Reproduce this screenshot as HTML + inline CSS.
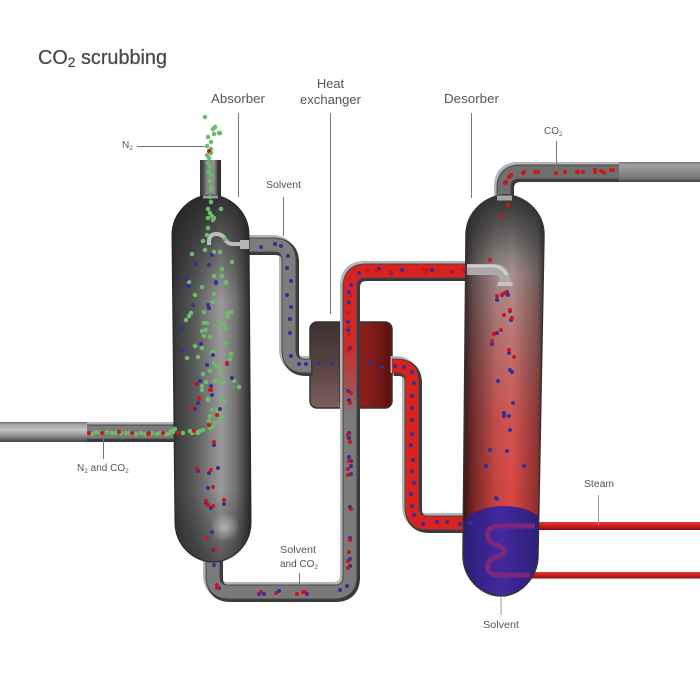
<!DOCTYPE html>
<html><head><meta charset="utf-8"><title>CO2 scrubbing</title>
<style>html,body{margin:0;padding:0;background:#fff}svg{display:block}text{font-family:"Liberation Sans",sans-serif;fill:#555}</style></head>
<body>
<svg width="700" height="700" viewBox="0 0 700 700" xmlns="http://www.w3.org/2000/svg" style="filter:blur(.3px)">
<defs>
<linearGradient id="closedH" x1="0" y1="0" x2="0" y2="1"><stop offset="0" stop-color="#6f6f6f"/><stop offset=".12" stop-color="#a5a5a5"/><stop offset=".4" stop-color="#c4c4c4"/><stop offset=".7" stop-color="#8f8f8f"/><stop offset=".9" stop-color="#5a5a5a"/><stop offset="1" stop-color="#444"/></linearGradient>
<linearGradient id="closedR" x1="0" y1="0" x2="0" y2="1"><stop offset="0" stop-color="#777"/><stop offset=".15" stop-color="#a0a0a0"/><stop offset=".5" stop-color="#8c8c8c"/><stop offset=".8" stop-color="#777"/><stop offset="1" stop-color="#444"/></linearGradient>
<linearGradient id="absH" gradientUnits="userSpaceOnUse" x1="172" y1="0" x2="251" y2="0"><stop offset="0" stop-color="#2f2f2f"/><stop offset=".07" stop-color="#3d3d3d"/><stop offset=".3" stop-color="#5c5c5c"/><stop offset=".62" stop-color="#9a9a9a"/><stop offset=".8" stop-color="#757575"/><stop offset=".95" stop-color="#3a3a3a"/><stop offset="1" stop-color="#252525"/></linearGradient>
<linearGradient id="domeTop" gradientUnits="userSpaceOnUse" x1="0" y1="195" x2="0" y2="300"><stop offset="0" stop-color="#222" stop-opacity=".9"/><stop offset="1" stop-color="#222" stop-opacity="0"/></linearGradient>
<linearGradient id="domeBot" gradientUnits="userSpaceOnUse" x1="0" y1="490" x2="0" y2="565"><stop offset="0" stop-color="#222" stop-opacity="0"/><stop offset="1" stop-color="#222" stop-opacity=".6"/></linearGradient>
<radialGradient id="spot" gradientUnits="userSpaceOnUse" cx="225" cy="527" r="15"><stop offset="0" stop-color="#ddd" stop-opacity=".6"/><stop offset="1" stop-color="#ddd" stop-opacity="0"/></radialGradient>
<linearGradient id="desV" gradientUnits="userSpaceOnUse" x1="0" y1="190" x2="0" y2="520"><stop offset="0" stop-color="#8f8f8f"/><stop offset=".2" stop-color="#a59a98"/><stop offset=".42" stop-color="#bb7a78"/><stop offset=".7" stop-color="#d25452"/><stop offset="1" stop-color="#dc4440"/></linearGradient>
<linearGradient id="desH" gradientUnits="userSpaceOnUse" x1="464" y1="0" x2="544" y2="0"><stop offset="0" stop-color="#000" stop-opacity=".72"/><stop offset=".12" stop-color="#000" stop-opacity=".45"/><stop offset=".4" stop-color="#000" stop-opacity=".08"/><stop offset=".6" stop-color="#000" stop-opacity="0"/><stop offset=".92" stop-color="#000" stop-opacity=".35"/><stop offset="1" stop-color="#000" stop-opacity=".65"/></linearGradient>
<linearGradient id="desTop" gradientUnits="userSpaceOnUse" x1="0" y1="195" x2="0" y2="275"><stop offset="0" stop-color="#222" stop-opacity=".85"/><stop offset="1" stop-color="#222" stop-opacity="0"/></linearGradient>
<linearGradient id="poolH" gradientUnits="userSpaceOnUse" x1="463" y1="0" x2="540" y2="0"><stop offset="0" stop-color="#2a1f78"/><stop offset=".5" stop-color="#43299e"/><stop offset="1" stop-color="#2c1f78"/></linearGradient>
<linearGradient id="hot" gradientUnits="userSpaceOnUse" x1="0" y1="270" x2="0" y2="415"><stop offset="0" stop-color="#d9221f"/><stop offset=".52" stop-color="#cc2c28"/><stop offset=".79" stop-color="#a5504c"/><stop offset="1" stop-color="#7a7a7a"/></linearGradient>
<linearGradient id="hxL" x1="0" y1="0" x2="0" y2="1"><stop offset="0" stop-color="#3a3331"/><stop offset=".5" stop-color="#574341"/><stop offset="1" stop-color="#7f5f5c"/></linearGradient>
<linearGradient id="hxR" x1="0" y1="0" x2="1" y2="0"><stop offset="0" stop-color="#7c1612"/><stop offset=".5" stop-color="#8a1f1b"/><stop offset="1" stop-color="#5e0f0d"/></linearGradient>
<linearGradient id="steam" x1="0" y1="0" x2="0" y2="1"><stop offset="0" stop-color="#d8453f"/><stop offset=".4" stop-color="#dc1f1c"/><stop offset="1" stop-color="#8c0f0e"/></linearGradient>
<linearGradient id="faucet" x1="0" y1="0" x2="0" y2="1"><stop offset="0" stop-color="#888"/><stop offset=".4" stop-color="#c2c2c2"/><stop offset="1" stop-color="#8a8a8a"/></linearGradient>
<linearGradient id="neck" x1="0" y1="0" x2="1" y2="0"><stop offset="0" stop-color="#3a3a3a"/><stop offset=".15" stop-color="#4a4a4a"/><stop offset=".32" stop-color="#858585"/><stop offset=".68" stop-color="#8d8d8d"/><stop offset=".85" stop-color="#3a3a3a"/><stop offset="1" stop-color="#2a2a2a"/></linearGradient>
<path id="p1" d="M245,245 L273,245 Q289,245 289,261 L289,350 Q289,366 305,366 L311,366"/>
<path id="p2" d="M213,555 L213,576 Q213,592 229,592 L334,592 Q350,592 350,576 L350,287 Q350,271 366,271 L470,271"/>
<path id="p3" d="M392,366 L396,366 Q412,366 412,382 L412,507 Q412,523 428,523 L470,523"/>
<path id="p4" d="M504,202 L504,188 Q504,172 520,172 L640,172"/>
<path id="p5" d="M80,432 L180,432"/>
</defs>

<!-- Heat exchanger -->
<rect x="310" y="322" width="52" height="86" rx="7" fill="url(#hxL)" stroke="#333" stroke-width="1.5"/>
<rect x="340" y="322" width="52" height="86" rx="7" fill="url(#hxR)" stroke="#333" stroke-width="1.5"/>

<!-- Pipes: light rim, dark shell, interior -->
<g fill="none" stroke-linejoin="round">
<g stroke="#b5b5b5" stroke-width="17" transform="translate(-1.5,-1.5)"><use href="#p1"/><use href="#p2"/><use href="#p3"/><use href="#p4"/><use href="#p5"/></g>
<g stroke="#3a3a3a" stroke-width="17" transform="translate(1.5,1.5)"><use href="#p1"/><use href="#p2"/><use href="#p3"/><use href="#p4"/><use href="#p5"/></g>
<g stroke="#454545" stroke-width="15"><use href="#p1"/><use href="#p2"/><use href="#p3"/><use href="#p4"/><use href="#p5"/></g>
<use href="#p1" stroke="#7d7d7d" stroke-width="13"/>
<use href="#p2" stroke="url(#hot)" stroke-width="13"/>
<use href="#p3" stroke="#d8231f" stroke-width="13"/>
<use href="#p4" stroke="#6f6f6f" stroke-width="13"/>
<use href="#p5" stroke="#7b7b7b" stroke-width="13"/>
</g>
<rect x="0" y="422" width="87" height="20" fill="url(#closedH)"/>
<rect x="619" y="162" width="81" height="20" fill="url(#closedR)"/>

<!-- Steam pipes -->
<rect x="530" y="522" width="170" height="8" fill="url(#steam)"/>
<rect x="525" y="572" width="175" height="6.5" fill="url(#steam)"/>

<!-- Absorber -->
<rect x="200" y="160" width="21" height="38" fill="url(#neck)"/>
<path d="M172,235 C172,212 192,195 210,195 C230,195 249,212 249,235 L251,522 C251,546 232,562 213,562 C194,562 175,546 175,522 Z" fill="url(#absH)" stroke="#2a2a2a" stroke-width="1"/>
<path d="M172,235 C172,212 192,195 210,195 C230,195 249,212 249,235 L249,300 L172,300 Z" fill="url(#domeTop)"/>
<path d="M174,490 L251,490 L251,522 C251,546 232,562 213,562 C194,562 175,546 175,522 Z" fill="url(#domeBot)"/>
<circle cx="225" cy="527" r="15" fill="url(#spot)"/>
<path d="M203,197 L218,197" stroke="#999" stroke-width="3"/>
<path d="M248,244 L233,244 Q227,244 224.500,238 Q222,234 216,234 Q210,234 209,240 L209,245" fill="none" stroke="#bcbcbc" stroke-width="4"/>
<rect x="240" y="240" width="9" height="9" fill="#b5b5b5"/>

<!-- Desorber -->
<path d="M466,235 C466,212 486,195 505,195 C525,195 544,212 544,235 L538,555 C538,578 520,596 501,596 C481,596 463,578 463,555 Z" fill="url(#desV)"/>
<path d="M466,235 C466,212 486,195 505,195 C525,195 544,212 544,235 L538,555 C538,578 520,596 501,596 C481,596 463,578 463,555 Z" fill="url(#desH)"/>
<path d="M466,235 C466,212 486,195 505,195 C525,195 544,212 544,235 L544,275 L466,275 Z" fill="url(#desTop)"/>
<path d="M465,519 C475,510 490,506 503,506 C518,506 532,510 539,517 L538,555 C538,578 520,596 501,596 C481,596 463,578 463,555 Z" fill="url(#poolH)"/>
<path d="M535,526 L497,526 C486,526 484,540 494,544 C508,549 508,553 494,558 C484,562 486,575 497,575 L530,575" fill="none" stroke="#7c2680" stroke-width="5"/>
<path d="M466,235 C466,212 486,195 505,195 C525,195 544,212 544,235 L538,555 C538,578 520,596 501,596 C481,596 463,578 463,555 Z" fill="none" stroke="#333" stroke-width="1.500"/>
<path d="M497,198 L512,198" stroke="#a5a5a5" stroke-width="5"/>
<path d="M467,269.500 L494,269.500 Q505,269.500 505,282" fill="none" stroke="#a9a9a9" stroke-width="11"/>
<path d="M467,266 L494,266 Q502,267 507,275" fill="none" stroke="#cfcfcf" stroke-width="3"/>
<path d="M498,282 L512,282 L513,286 L497,286 Z" fill="#c4c4c4"/>

<!-- Leader lines -->
<g stroke="#777" stroke-width="1" fill="none">
<path d="M137,146.500H205M238.500,113V197M330.500,113V314M471.500,113V198M556.500,141V168M283.500,197V236M103.500,432V459M299.500,573V594"/>
<path d="M598.500,495V525M501,596V615" stroke="#999"/>
</g>

<!-- Particles -->
<g fill="none" stroke-linecap="round">
<path stroke="#6cba6a" stroke-width="4.500" d="M205 117h.01M215 127h.01M213 129h.01M214 134h.01M219 133h.01M220 133h.01M208 137h.01M211 142h.01M207 146h.01M211 149h.01M211 153h.01M207 155h.01M209 158h.01M208 163h.01M210 167h.01M209 172h.01M211 175h.01M210 181h.01M211 187h.01M211 190h.01M210 197h.01M211 202h.01M208 209h.01M221 209h.01M210 213h.01M208 218h.01M212 216h.01M214 218h.01M213 220h.01M208 228h.01M207 235h.01M203 241h.01M225 239h.01M192 254h.01M205 250h.01M214 252h.01M220 252h.01M232 262h.01M222 269h.01M214 276h.01M222 276h.01M226 282h.01M189 282h.01M202 287h.01M226 283h.01M195 295h.01M214 294h.01M213 302h.01M204 312h.01M191 313h.01M189 316h.01M186 320h.01M227 313h.01M231 312h.01M228 316h.01M204 323h.01M207 323h.01M219 322h.01M224 324h.01M219 328h.01M226 329h.01M202 331h.01M206 330h.01M204 336h.01M210 337h.01M226 343h.01M195 346h.01M202 348h.01M212 352h.01M214 352h.01M231 354h.01M230 359h.01M187 358h.01M198 357h.01M214 363h.01M217 366h.01M210 371h.01M221 372h.01M203 374h.01M234 381h.01M206 382h.01M215 381h.01M217 381h.01M223 382h.01M202 386h.01M202 390h.01M239 387h.01M208 399h.01M222 399h.01M208 400h.01M224 402h.01M212 410h.01M217 410h.01M210 416h.01M223 417h.01M220 419h.01M209 421h.01M215 423h.01M213 427h.01M210 428h.01M200 431h.01M203 430h.01M196 432h.01M190 431h.01M192 433h.01M183 433h.01M173 432h.01M170 433h.01M167 434h.01M198 433h.01M92 434h.01M96 432h.01M100 433h.01M107 432h.01M112 433h.01M116 433h.01M121 433h.01M126 433h.01M130 433h.01M136 434h.01M141 433h.01M145 434h.01M152 433h.01M157 434h.01M160 433h.01M166 434h.01M171 431h.01M175 429h.01"/>
<path stroke="#34309a" stroke-width="4" d="M212 255h.01M196 264h.01M209 265h.01M187 279h.01M216 282h.01M188 286h.01M189 286h.01M216 283h.01M193 305h.01M208 305h.01M209 308h.01M182 328h.01M201 344h.01M182 351h.01M213 355h.01M207 365h.01M227 364h.01M232 378h.01M200 381h.01M211 386h.01M197 384h.01M212 395h.01M198 403h.01M195 409h.01M220 409h.01M214 445h.01M198 471h.01M209 473h.01M218 468h.01M208 488h.01M206 503h.01M211 508h.01M224 504h.01M212 532h.01M213 550h.01M214 565h.01M219 588h.01M259 594h.01M264 594h.01M279 591h.01M307 594h.01M340 590h.01M347 586h.01M350 507h.01M350 538h.01M349 552h.01M350 559h.01M350 566h.01M349 433h.01M349 438h.01M349 457h.01M351 461h.01M351 466h.01M351 474h.01M349 400h.01M359 273h.01M379 269h.01M391 273h.01M402 270h.01M432 270h.01M452 272h.01M465 270h.01M351 285h.01M349 292h.01M349 302h.01M348 313h.01M348 322h.01M348 330h.01M350 348h.01M348 391h.01M319 363h.01M332 363h.01M371 363h.01M382 367h.01M299 364h.01M306 364h.01M291 356h.01M395 366h.01M404 367h.01M412 372h.01M414 383h.01M412 396h.01M412 408h.01M412 420h.01M412 434h.01M411 445h.01M413 460h.01M412 471h.01M414 483h.01M411 494h.01M412 506h.01M414 515h.01M423 524h.01M437 522h.01M447 522h.01M460 524h.01M471 523h.01M497 300h.01M502 295h.01M507 292h.01M508 295h.01M510 311h.01M511 320h.01M497 333h.01M492 344h.01M509 353h.01M510 370h.01M512 372h.01M498 381h.01M513 403h.01M504 413h.01M504 416h.01M509 416h.01M510 430h.01M490 450h.01M507 451h.01M486 466h.01M524 466h.01M496 498h.01M497 499h.01M261 247h.01M275 244h.01M281 246h.01M288 256h.01M287 268h.01M291 281h.01M287 295h.01M291 307h.01M290 319h.01M290 333h.01"/>
<path stroke="#cf1518" stroke-width="4" d="M209 151h.01M227 363h.01M196 384h.01M211 390h.01M199 398h.01M199 399h.01M192 408h.01M217 415h.01M209 425h.01M178 433h.01M194 431h.01M214 442h.01M197 469h.01M211 470h.01M213 487h.01M206 501h.01M208 505h.01M213 506h.01M224 500h.01M210 390h.01M207 538h.01M215 549h.01M217 585h.01M217 588h.01M261 592h.01M276 593h.01M297 594h.01M303 592h.01M305 592h.01M351 509h.01M350 540h.01M349 552h.01M348 561h.01M348 568h.01M348 435h.01M350 442h.01M349 461h.01M348 469h.01M348 475h.01M350 403h.01M367 271h.01M377 271h.01M390 272h.01M423 269h.01M425 272h.01M427 270h.01M451 272h.01M464 269h.01M350 296h.01M348 313h.01M349 327h.01M349 334h.01M348 350h.01M351 393h.01M490 260h.01M497 296h.01M503 294h.01M505 293h.01M510 310h.01M504 315h.01M512 318h.01M501 330h.01M494 334h.01M492 341h.01M509 350h.01M514 357h.01M508 205h.01M501 216h.01M506 182h.01M505 183h.01M509 177h.01M511 175h.01M523 173h.01M524 172h.01M535 172h.01M538 172h.01M556 173h.01M565 172h.01M577 172h.01M578 172h.01M583 172h.01M595 170h.01M595 172h.01M601 171h.01M604 173h.01M611 170h.01M613 170h.01M89 433h.01M102 433h.01M119 432h.01M132 433h.01M149 433h.01M148 434h.01M163 433h.01"/>
</g>

<!-- Labels -->
<text x="38" y="64" font-size="20" textLength="129" lengthAdjust="spacingAndGlyphs" style="fill:#4a4a4a;stroke:#4a4a4a;stroke-width:.25">CO<tspan font-size="14" dy="3">2</tspan><tspan dy="-3"> scrubbing</tspan></text>
<text x="211" y="103" font-size="12.500" textLength="54" lengthAdjust="spacingAndGlyphs">Absorber</text>
<text x="317" y="88" font-size="12.500" textLength="27" lengthAdjust="spacingAndGlyphs">Heat</text>
<text x="300" y="104" font-size="12.500" textLength="61" lengthAdjust="spacingAndGlyphs">exchanger</text>
<text x="444" y="103" font-size="12.500" textLength="55" lengthAdjust="spacingAndGlyphs">Desorber</text>
<text x="544" y="134" font-size="10">CO<tspan font-size="6.500" dy="2">2</tspan></text>
<text x="122" y="148" font-size="10">N<tspan font-size="6.500" dy="2">2</tspan></text>
<text x="266" y="188" font-size="10" textLength="35" lengthAdjust="spacingAndGlyphs">Solvent</text>
<text x="77" y="471" font-size="10">N<tspan font-size="6.500" dy="2">2</tspan><tspan dy="-2"> and CO</tspan><tspan font-size="6.500" dy="2">2</tspan></text>
<text x="280" y="553" font-size="10" textLength="36" lengthAdjust="spacingAndGlyphs">Solvent</text>
<text x="280" y="567" font-size="10">and CO<tspan font-size="6.500" dy="2">2</tspan></text>
<text x="584" y="487" font-size="10" textLength="30" lengthAdjust="spacingAndGlyphs">Steam</text>
<text x="483" y="628" font-size="10" textLength="36" lengthAdjust="spacingAndGlyphs">Solvent</text>
</svg>
</body></html>
